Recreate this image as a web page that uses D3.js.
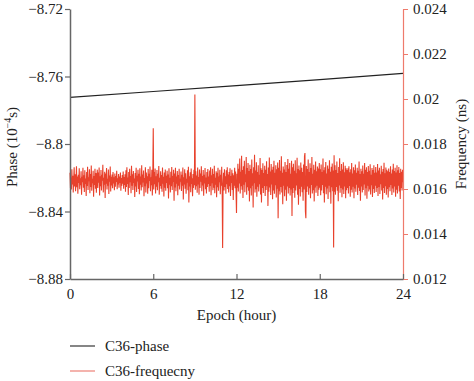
<!DOCTYPE html>
<html><head><meta charset="utf-8">
<script src="https://cdn.jsdelivr.net/npm/d3@7/dist/d3.min.js"></script>
<style>body{margin:0;background:#fff}svg{display:block}text{font-family:"Liberation Serif","Times New Roman",serif;}</style>
</head><body><svg id="c" width="474" height="381"></svg>
<script>
// ---- data ----
const xTicks = [0, 6, 12, 18, 24];
const phaseTicks = [-8.72, -8.76, -8.8, -8.84, -8.88];
const freqTicks = [0.012, 0.014, 0.016, 0.018, 0.02, 0.022, 0.024];
const phaseEpoch = [0, 6, 12, 18, 24];
const phaseValues = [-8.7724, -8.7689, -8.7654, -8.7618, -8.7582];
const freqStepHours = 1 / 30;
const freqValues = [
.01672,.01603,.01651,.01598,.01688,.01620,.01659,.01584,.01644,.01697,.01611,.01666,.01590,.01640,.01701,.01608,.01655,.01579,.01663,.01627,.01692,.01599,.01648,.01617,.01679,.01575,.01654,.01630,.01694,.01606,
.01661,.01587,.01683,.01622,.01647,.01569,.01676,.01613,.01699,.01596,.01652,.01635,.01688,.01581,.01667,.01609,.01704,.01592,.01645,.01626,.01681,.01566,.01658,.01618,.01690,.01601,.01671,.01583,.01649,.01686,
.01604,.01673,.01628,.01695,.01571,.01657,.01612,.01684,.01593,.01663,.01637,.01708,.01585,.01650,.01619,.01677,.01560,.01669,.01624,.01693,.01598,.01646,.01615,.01687,.01578,.01660,.01632,.01700,.01589,.01654,
.01616,.01664,.01603,.01675,.01625,.01652,.01594,.01669,.01610,.01658,.01631,.01681,.01599,.01648,.01620,.01667,.01606,.01655,.01627,.01673,.01592,.01649,.01614,.01662,.01623,.01678,.01601,.01653,.01618,.01666,
.01588,.01683,.01609,.01697,.01622,.01651,.01573,.01676,.01605,.01690,.01630,.01658,.01581,.01703,.01614,.01665,.01596,.01680,.01627,.01647,.01564,.01671,.01611,.01694,.01587,.01659,.01633,.01686,.01600,.01668,
.01577,.01692,.01619,.01655,.01593,.01706,.01608,.01664,.01629,.01682,.01568,.01649,.01612,.01697,.01584,.01673,.01625,.01657,.01579,.01689,.01603,.01668,.01636,.01700,.01590,.01652,.01617,.01685,.01571,.01661,
.01870,.01598,.01676,.01621,.01691,.01580,.01657,.01610,.01684,.01594,.01668,.01630,.01702,.01575,.01650,.01614,.01679,.01601,.01662,.01588,.01696,.01623,.01654,.01567,.01673,.01606,.01687,.01592,.01659,.01627,
.01681,.01603,.01664,.01558,.01692,.01619,.01650,.01585,.01677,.01612,.01698,.01596,.01658,.01631,.01685,.01548,.01669,.01607,.01694,.01590,.01655,.01624,.01680,.01572,.01662,.01615,.01690,.01598,.01646,.01633,
.01678,.01591,.01663,.01614,.01695,.01553,.01652,.01620,.01688,.01601,.01670,.01579,.01645,.01628,.01683,.01595,.01699,.01540,.01657,.01611,.01674,.01586,.01691,.01622,.01648,.01568,.01667,.01605,.01686,.01617,
.02020,.01597,.01679,.01612,.01660,.01583,.01696,.01620,.01653,.01575,.01687,.01604,.01669,.01632,.01701,.01590,.01658,.01616,.01684,.01570,.01663,.01625,.01693,.01599,.01651,.01580,.01676,.01609,.01689,.01622,
.01656,.01588,.01682,.01613,.01697,.01572,.01661,.01626,.01690,.01595,.01667,.01606,.01703,.01581,.01650,.01619,.01679,.01563,.01672,.01608,.01694,.01592,.01655,.01630,.01686,.01577,.01663,.01614,.01699,.01600,
.01338,.01618,.01672,.01593,.01688,.01609,.01657,.01579,.01683,.01621,.01697,.01600,.01664,.01585,.01676,.01612,.01692,.01569,.01658,.01627,.01685,.01596,.01670,.01551,.01661,.01615,.01694,.01603,.01678,.01588,
.01493,.01668,.01606,.01712,.01589,.01690,.01625,.01735,.01580,.01677,.01612,.01748,.01597,.01684,.01560,.01701,.01619,.01725,.01586,.01665,.01630,.01742,.01574,.01693,.01608,.01716,.01592,.01680,.01545,.01708,
.01603,.01689,.01571,.01731,.01615,.01670,.01518,.01697,.01626,.01752,.01584,.01682,.01599,.01719,.01566,.01675,.01610,.01706,.01589,.01663,.01621,.01738,.01576,.01692,.01540,.01684,.01604,.01714,.01582,.01671,
.01613,.01703,.01569,.01685,.01596,.01723,.01612,.01667,.01525,.01695,.01588,.01740,.01607,.01678,.01573,.01711,.01620,.01686,.01554,.01699,.01593,.01726,.01579,.01672,.01617,.01705,.01562,.01688,.01601,.01718,
.01470,.01694,.01590,.01729,.01576,.01681,.01609,.01746,.01585,.01672,.01532,.01700,.01614,.01687,.01568,.01720,.01597,.01676,.01548,.01707,.01611,.01733,.01580,.01690,.01604,.01715,.01571,.01668,.01598,.01725,
.01480,.01697,.01582,.01712,.01605,.01681,.01561,.01728,.01593,.01670,.01616,.01739,.01575,.01689,.01530,.01704,.01600,.01683,.01567,.01718,.01610,.01694,.01586,.01675,.01548,.01709,.01598,.01745,.01760,.01500,
.01470,.01702,.01587,.01689,.01611,.01731,.01574,.01676,.01603,.01714,.01559,.01693,.01618,.01742,.01580,.01668,.01595,.01708,.01545,.01686,.01607,.01722,.01583,.01679,.01614,.01700,.01569,.01691,.01597,.01716,
.01606,.01688,.01572,.01709,.01593,.01675,.01618,.01735,.01581,.01683,.01540,.01697,.01610,.01720,.01577,.01669,.01602,.01704,.01556,.01690,.01615,.01728,.01586,.01677,.01535,.01699,.01608,.01713,.01590,.01682,
.01340,.01750,.01588,.01706,.01575,.01684,.01609,.01722,.01592,.01671,.01546,.01698,.01616,.01737,.01583,.01680,.01604,.01711,.01563,.01687,.01598,.01719,.01578,.01674,.01611,.01703,.01559,.01692,.01595,.01684,
.01605,.01692,.01580,.01701,.01613,.01674,.01566,.01688,.01597,.01716,.01584,.01669,.01610,.01697,.01559,.01683,.01602,.01709,.01588,.01672,.01619,.01694,.01573,.01681,.01606,.01722,.01591,.01667,.01548,.01690,
.01611,.01679,.01585,.01704,.01596,.01668,.01620,.01715,.01571,.01686,.01603,.01697,.01557,.01675,.01614,.01702,.01589,.01681,.01598,.01710,.01576,.01663,.01617,.01693,.01564,.01684,.01600,.01706,.01582,.01672,
.01615,.01698,.01587,.01673,.01604,.01711,.01569,.01682,.01609,.01694,.01578,.01666,.01621,.01703,.01593,.01677,.01553,.01689,.01605,.01717,.01582,.01670,.01612,.01696,.01574,.01685,.01600,.01679,.01562,.01691,
.01608,.01675,.01590,.01701,.01618,.01669,.01573,.01687,.01602,.01712,.01585,.01680,.01611,.01694,.01566,.01673,.01597,.01706,.01580,.01683,.01614,.01698,.01589,.01671,.01556,.01690,.01605,.01677,.01593,.01686,
.01630];
const seriesNames = ["C36-phase", "C36-frequecny"];

// ---- chart ----
const svg = d3.select("#c");
const m = {l: 70, r: 403, t: 9, b: 279};
const x = d3.scaleLinear().domain([0, 24]).range([m.l, m.r]);
const yP = d3.scaleLinear().domain([-8.88, -8.72]).range([m.b, m.t]);
const yF = d3.scaleLinear().domain([0.012, 0.024]).range([m.b, m.t]);
const red = "#e8412c", redAxis = "#ee7a6c", gray = "#666";

const fmtP = d => String(+d.toFixed(2)).replace("-", "\u2212");
const fmtF = d => String(+d.toFixed(3));

// frequency series
const fData = freqValues.map((v, i) => [i * freqStepHours, v]);
svg.append("path").datum(fData)
  .attr("d", d3.line().x(d => x(d[0])).y(d => yF(d[1])))
  .attr("fill", "none").attr("stroke", red).attr("stroke-width", 1.1);

// phase line
svg.append("path").datum(phaseEpoch.map((e, i) => [e, phaseValues[i]]))
  .attr("d", d3.line().x(d => x(d[0])).y(d => yP(d[1])))
  .attr("fill", "none").attr("stroke", "#222").attr("stroke-width", 1.2);

// axes
const gL = svg.append("g").attr("transform", `translate(${m.l},0)`)
  .call(d3.axisLeft(yP).tickValues(phaseTicks).tickFormat(fmtP).tickSize(5).tickSizeOuter(0));
const gR = svg.append("g").attr("transform", `translate(${m.r},0)`)
  .call(d3.axisRight(yF).tickValues(freqTicks).tickFormat(fmtF).tickSize(5).tickSizeOuter(0));
const gB = svg.append("g").attr("transform", `translate(0,${m.b})`)
  .call(d3.axisBottom(x).tickValues(xTicks).tickFormat(d3.format("d")).tickSize(-5).tickSizeOuter(0));

[gL, gB].forEach(g => { g.select(".domain").attr("stroke", gray).attr("stroke-width", 1.5);
  g.selectAll(".tick line").attr("stroke", gray).attr("stroke-width", 1.2); });
gR.select(".domain").attr("stroke", redAxis).attr("stroke-width", 1.2);
gR.selectAll(".tick line").attr("stroke", redAxis);
[gL, gR, gB].forEach(g => g.selectAll("text").attr("font-family", "Liberation Serif")
  .attr("font-size", 15).attr("fill", "#222"));
gB.selectAll(".tick text").attr("y", 9);
gL.selectAll(".tick text").attr("x", -7);
gR.selectAll(".tick text").attr("x", 10);

// axis titles
svg.append("text").attr("x", x(12)).attr("y", 320).attr("text-anchor", "middle")
  .attr("font-size", 15).attr("fill", "#222").text("Epoch (hour)");
const lt = svg.append("text").attr("transform", `translate(17,${(m.t + m.b) / 2 + 3}) rotate(-90)`)
  .attr("text-anchor", "middle").attr("font-size", 15).attr("fill", "#222");
lt.append("tspan").text("Phase (10");
lt.append("tspan").attr("dy", -6).attr("font-size", 10).text("\u22124");
lt.append("tspan").attr("dy", 6).text("s)");
svg.append("text").attr("transform", `translate(466,${(m.t + m.b) / 2}) rotate(-90)`)
  .attr("text-anchor", "middle").attr("font-size", 15).attr("fill", "#222").text("Frequency (ns)");

// legend
const legColors = ["#444", "#ee8a80"];
seriesNames.forEach((n, i) => {
  const yy = 346 + i * 25;
  svg.append("line").attr("x1", 70).attr("x2", 95).attr("y1", yy).attr("y2", yy)
    .attr("stroke", legColors[i]).attr("stroke-width", 1.3);
  svg.append("text").attr("x", 105).attr("y", yy + 5).attr("font-size", 15).attr("fill", "#222").text(n);
});
</script></body></html>
